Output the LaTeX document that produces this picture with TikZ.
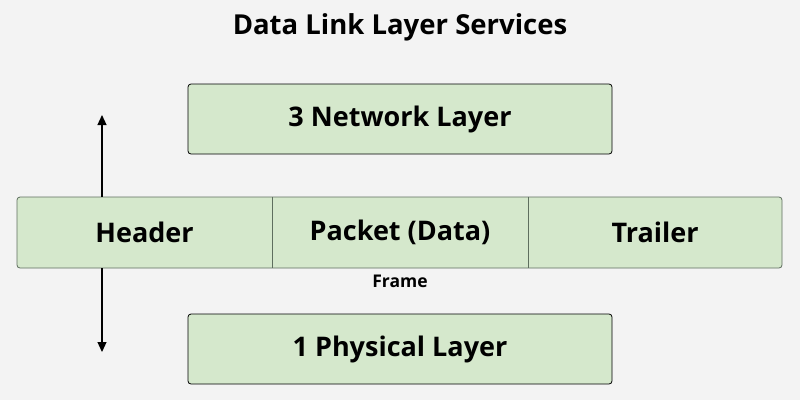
\documentclass[tikz,border=0pt]{standalone}
\usepackage{fontspec}
\setmainfont{Open Sans}
\usetikzlibrary{arrows.meta}
\definecolor{bgcol}{HTML}{F3F3F3}
\definecolor{boxfill}{HTML}{D5E8CC}
\definecolor{frameline}{HTML}{5E6E5E}
\tikzset{
	layer/.style={draw=black, fill=boxfill, rounded corners=3pt, line width=0.8pt,
		minimum width=424pt, minimum height=70pt, font=\bfseries\fontsize{27}{32}\selectfont},
	part/.style={minimum height=71pt, inner sep=0pt, font=\bfseries\fontsize{27}{32}\selectfont},
}
\begin{document}
\begin{tikzpicture}[x=1pt,y=-1pt]
	% canvas
	\fill[bgcol] (0,0) rectangle (800,400);
	\useasboundingbox (0,0) rectangle (800,400);

	\node[font=\bfseries\fontsize{27.5}{32}\selectfont] (title) at (400,27) {Data Link Layer Services};

	% upper and lower layers
	\node[layer] (net) at (400,119) {3 Network Layer};
	\node[layer] (phy) at (400,349) {1 Physical Layer};

	% the frame: header | packet | trailer
	\node[draw=frameline, fill=boxfill, rounded corners=3pt, line width=0.8pt,
		minimum width=765pt, minimum height=71pt] (frame) at (399.5,232.5) {};
	\node[part, minimum width=255pt] (hdr) at (144.5,232.5) {Header};
	\node[part, minimum width=256pt] (pkt) at (400,232.5) {Packet (Data)};
	\node[part, minimum width=254pt] (trl) at (655,232.5) {Trailer};
	\draw[frameline, line width=0.8pt] (hdr.north east) -- (hdr.south east);
	\draw[frameline, line width=0.8pt] (pkt.north east) -- (pkt.south east);
	\node[font=\bfseries\fontsize{17.5}{21}\selectfont] (lbl) at (400,281) {Frame};

	% data flowing up and down
	\coordinate (up) at (102,115);
	\coordinate (down) at (102,352);
	\draw[-{Triangle[length=10pt,width=9pt]}, line width=1.2pt] (up |- frame.north) -- (up);
	\draw[-{Triangle[length=10pt,width=9pt]}, line width=1.2pt] (down |- frame.south) -- (down);
\end{tikzpicture}
\end{document}
